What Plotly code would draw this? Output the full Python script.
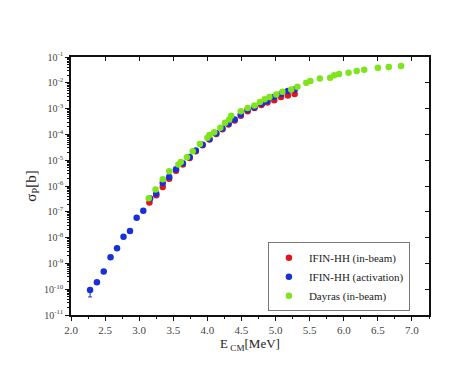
import plotly.graph_objects as go

# IFIN-HH (in-beam) - red
red_E = [3.15, 3.25, 3.345, 3.44, 3.54, 3.64, 3.74, 3.83, 3.93, 4.03, 4.13, 4.22, 4.31, 4.40,
         4.49, 4.59, 4.69, 4.79, 4.88, 4.98, 5.08, 5.18, 5.28]
red_logsig = [-6.64, -6.36, -6.04, -5.72, -5.41, -5.17, -4.91, -4.65, -4.42, -4.20, -3.98, -3.80,
              -3.62, -3.46, -3.28, -3.10, -2.98, -2.86, -2.76, -2.68, -2.55, -2.49, -2.43]

# IFIN-HH (activation) - blue
blue_E = [2.28, 2.38, 2.48, 2.58, 2.675, 2.77, 2.865, 2.963, 3.06, 3.16, 3.25, 3.345, 3.44, 3.54,
          3.64, 3.74, 3.83, 3.93, 4.03, 4.13, 4.22, 4.31, 4.40, 4.49, 4.59, 4.69, 4.80, 4.88,
          4.98, 5.08, 5.18, 5.28]
blue_logsig = [-10.03, -9.73, -9.31, -8.76, -8.41, -7.97, -7.74, -7.23, -6.96, -6.48, -6.30, -5.88,
               -5.65, -5.35, -5.12, -4.88, -4.62, -4.40, -4.18, -3.96, -3.77, -3.59, -3.42, -3.23,
               -3.04, -2.95, -2.81, -2.71, -2.55, -2.43, -2.32, -2.26]
blue_err_low_log = [-10.3]  # lower end of first point's error bar

# Dayras (in-beam) - green
green_E = [3.14, 3.24, 3.345, 3.44, 3.575, 3.61, 3.70, 3.785, 3.89, 4.00, 4.03, 4.10, 4.19, 4.26,
           4.32, 4.35, 4.49, 4.59, 4.69, 4.77, 4.84, 4.91, 5.01, 5.10, 5.23, 5.32, 5.45, 5.51,
           5.65, 5.80, 5.86, 5.93, 6.07, 6.19, 6.30, 6.50, 6.66, 6.84]
green_logsig = [-6.47, -6.14, -5.74, -5.43, -5.17, -5.07, -4.89, -4.65, -4.37, -4.13, -4.02, -3.92,
                -3.74, -3.55, -3.42, -3.28, -3.10, -2.98, -2.88, -2.74, -2.64, -2.55, -2.45, -2.35,
                -2.26, -2.15, -2.00, -1.93, -1.83, -1.80, -1.71, -1.66, -1.61, -1.54, -1.49, -1.42,
                -1.39, -1.35]

x_ticks = [2.0, 2.5, 3.0, 3.5, 4.0, 4.5, 5.0, 5.5, 6.0, 6.5, 7.0]
y_exps = [-11, -10, -9, -8, -7, -6, -5, -4, -3, -2, -1]

red_sig = [10 ** v for v in red_logsig]
blue_sig = [10 ** v for v in blue_logsig]
green_sig = [10 ** v for v in green_logsig]

blue_minus = [0.0] * len(blue_sig)
blue_minus[0] = blue_sig[0] - 10 ** blue_err_low_log[0]
blue_plus = [0.0] * len(blue_sig)

FONT = "Liberation Serif"
MS = 6.5

fig = go.Figure()
fig.add_trace(go.Scatter(x=red_E, y=red_sig, mode="markers", name="IFIN-HH (in-beam)",
                         marker=dict(color="#e3141b", size=MS)))
fig.add_trace(go.Scatter(x=blue_E, y=blue_sig, mode="markers", name="IFIN-HH (activation)",
                         marker=dict(color="#1730d8", size=MS),
                         error_y=dict(type="data", symmetric=False, array=blue_plus,
                                      arrayminus=blue_minus, color="#1730d8", thickness=1, width=2)))
fig.add_trace(go.Scatter(x=green_E, y=green_sig, mode="markers", name="Dayras (in-beam)",
                         marker=dict(color="#7ee41c", size=MS)))
# invisible trace to activate the mirrored top/right axes
fig.add_trace(go.Scatter(x=[None], y=[None], xaxis="x2", yaxis="y2", showlegend=False,
                         hoverinfo="skip", mode="markers"))

fig.update_layout(
    width=474, height=382,
    margin=dict(l=63, r=53, t=49, b=75),
    paper_bgcolor="white", plot_bgcolor="white",
    font=dict(family=FONT, color="#222"),
    showlegend=True,
    legend=dict(x=0.55, y=0.015, xanchor="left", yanchor="bottom",
                bordercolor="#777", borderwidth=1, bgcolor="white",
                font=dict(family=FONT, size=11, color="#222"),
                tracegroupgap=0, itemwidth=30),
    xaxis=dict(range=[2.0, 7.25], tickvals=x_ticks, ticktext=[f"{v:.1f}" for v in x_ticks],
               ticks="outside", ticklen=4, tickwidth=1, tickcolor="#111",
               showline=True, linecolor="#111", linewidth=1.5, showgrid=False, zeroline=False,
               minor=dict(dtick=0.25, tick0=2.0, ticks="outside", ticklen=2, tickcolor="#111"),
               tickfont=dict(family=FONT, size=11, color="#444"),
               title=dict(text="E<sub> CM</sub>[MeV]", font=dict(family=FONT, size=13, color="#222"),
                          standoff=2)),
    yaxis=dict(type="log", range=[-11, -1], tickvals=[10 ** e for e in y_exps],
               ticktext=[f"10<sup>{e}</sup>" for e in y_exps],
               ticks="outside", ticklen=4, tickwidth=1.2, tickcolor="#111",
               showline=True, linecolor="#111", linewidth=1.5, showgrid=False, zeroline=False,
               minor=dict(dtick="D1", ticks="outside", ticklen=2, tickcolor="#111"),
               tickfont=dict(family=FONT, size=10, color="#444"),
               title=dict(text="σ<sub>P</sub>[b]", font=dict(family=FONT, size=15, color="#222"),
                          standoff=4)),
    xaxis2=dict(overlaying="x", side="top", range=[2.0, 7.25], tickvals=x_ticks,
                showticklabels=False, ticks="inside", ticklen=4, tickcolor="#111",
                showline=True, linecolor="#111", linewidth=1.5, showgrid=False, zeroline=False),
    yaxis2=dict(overlaying="y", side="right", type="log", range=[-11, -1],
                tickvals=[10 ** e for e in y_exps], showticklabels=False, ticks="inside",
                ticklen=4, tickcolor="#111", showline=True, linecolor="#111", linewidth=1.5,
                showgrid=False, zeroline=False),
)

fig.write_html("out.html")
